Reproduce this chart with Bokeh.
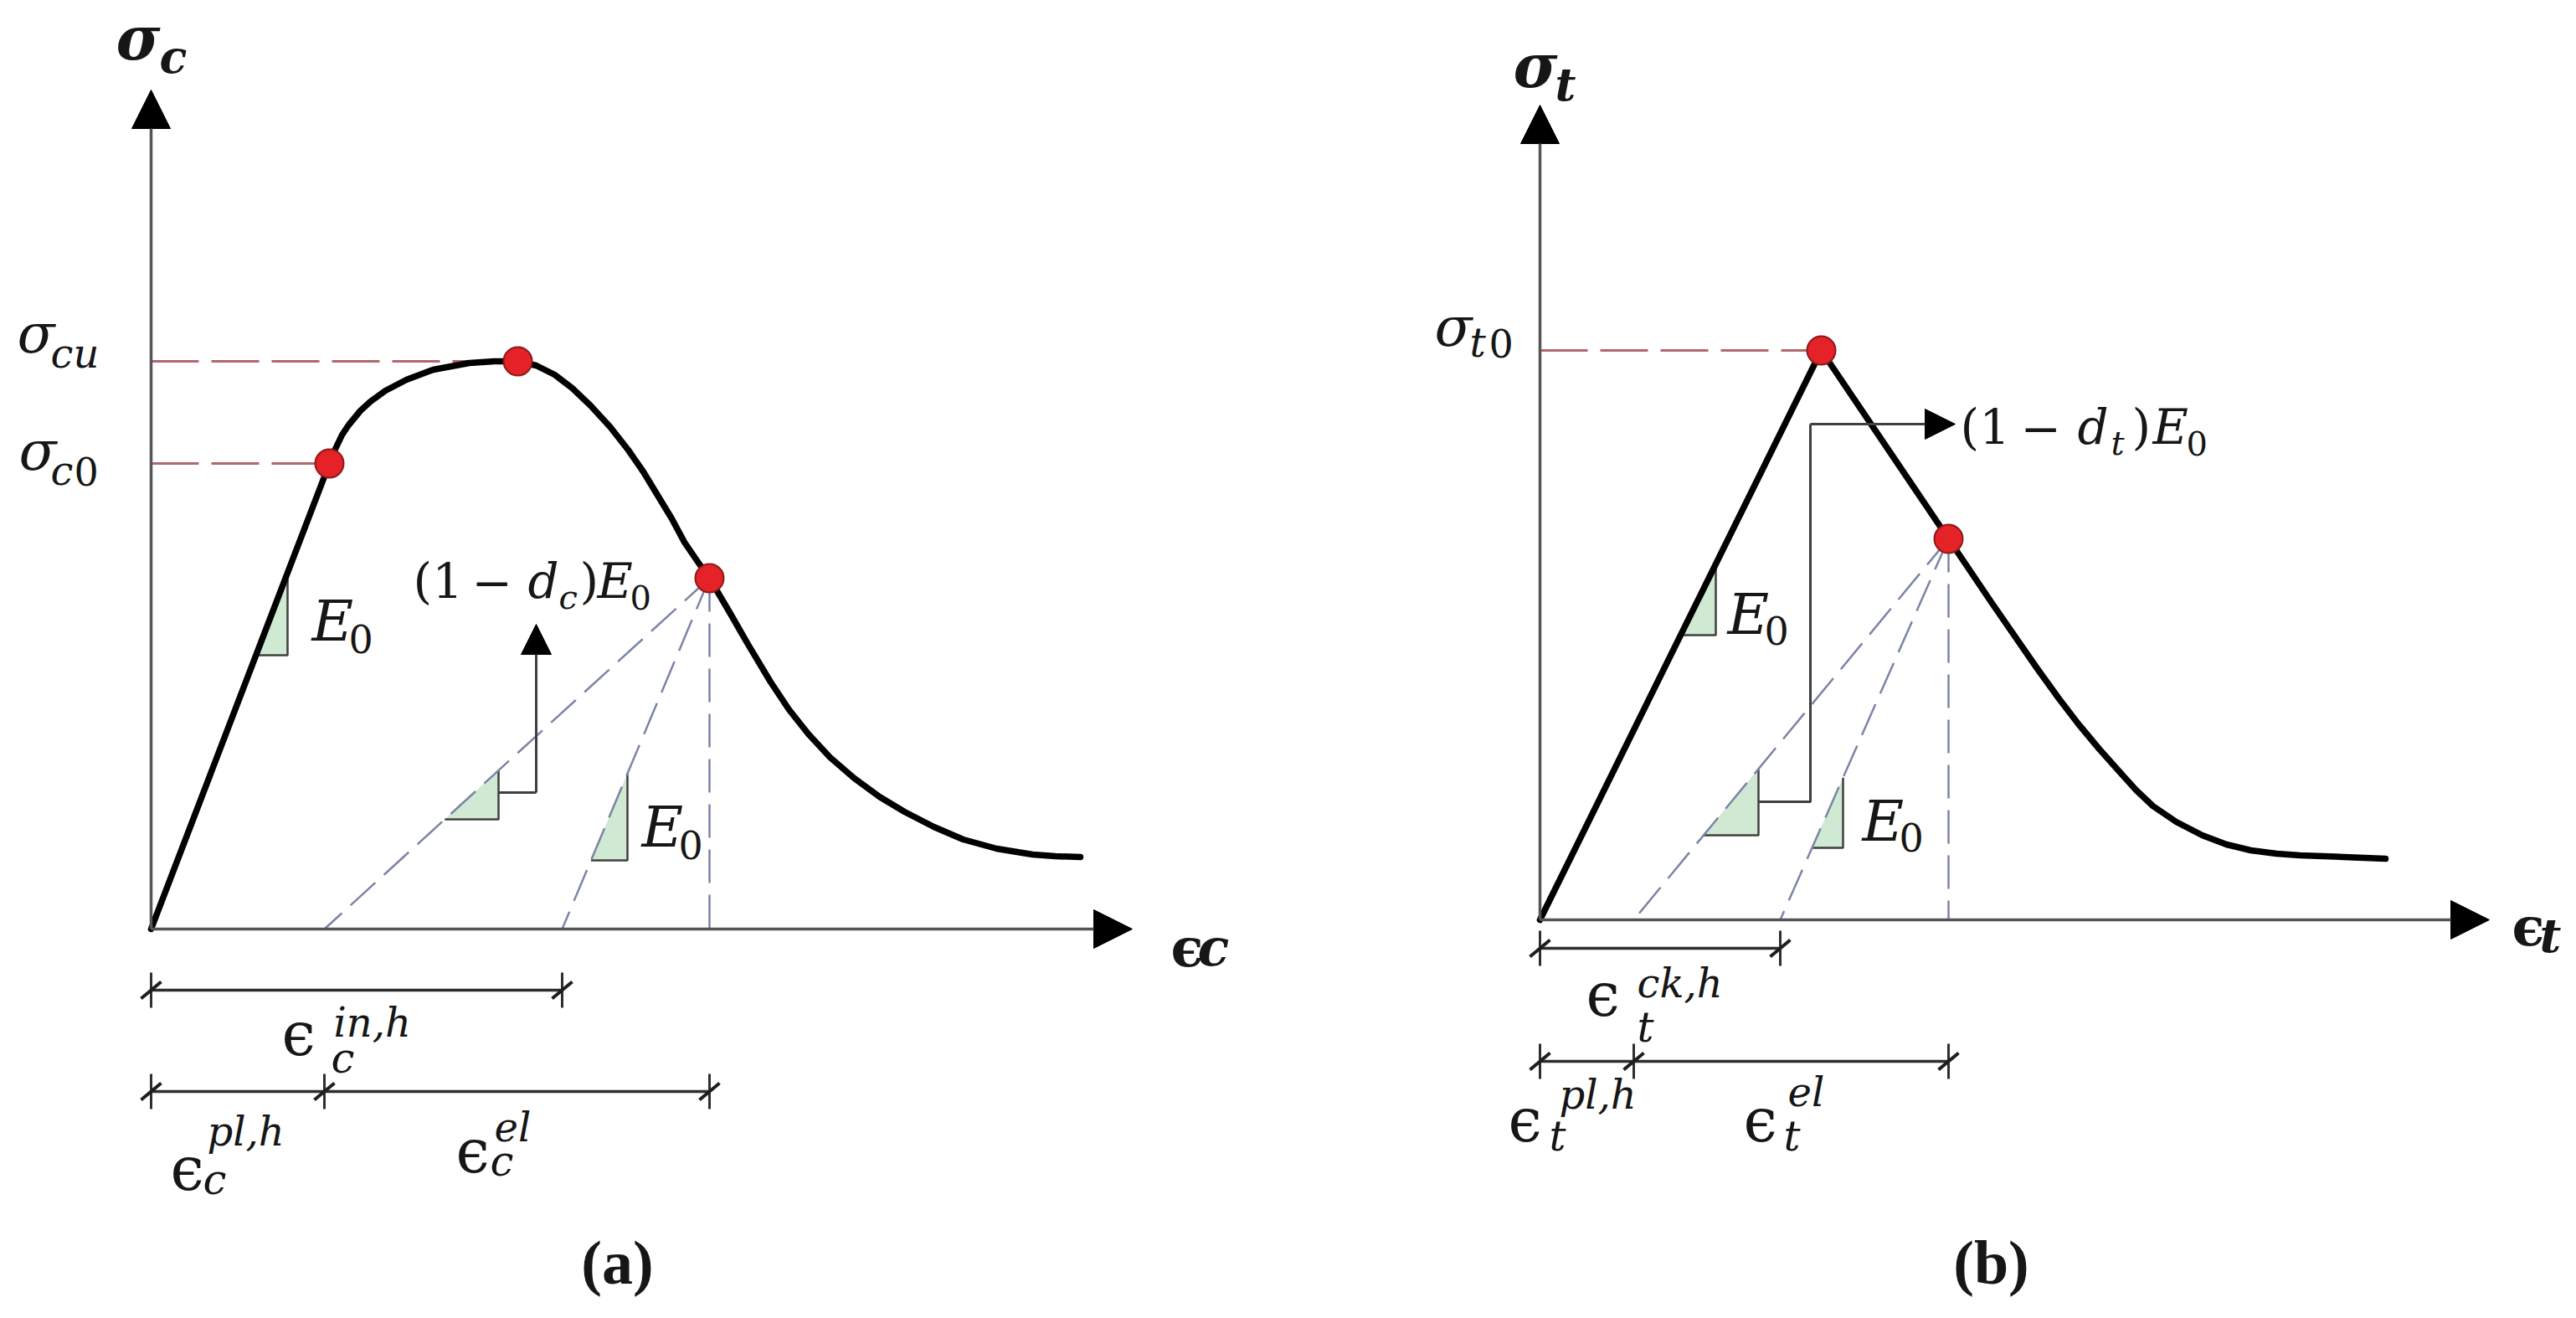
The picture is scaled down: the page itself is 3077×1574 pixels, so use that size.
from bokeh.plotting import figure
from bokeh.layouts import row
from bokeh.models import Range1d, Arrow, NormalHead
from bokeh.embed import file_html
from bokeh.resources import INLINE
from bokeh.core.properties import value

# ---------------- panel (a): compression ----------------
comp_strain = [0.00, 2.13, 2.18, 2.28, 2.36, 2.50, 2.62, 2.80, 3.05, 3.37, 3.80, 4.10,
               4.38, 4.60, 4.82, 5.03, 5.25, 5.48, 5.70, 5.88, 6.05, 6.22, 6.37, 6.52,
               6.67, 6.90, 7.13, 7.40, 7.62, 7.85, 8.11, 8.40, 8.70, 9.00, 9.35, 9.70,
               10.10, 10.53, 10.80, 11.10]
comp_stress = [0.00, 5.56, 5.69, 5.90, 6.02, 6.19, 6.30, 6.43, 6.56, 6.68, 6.76, 6.78,
               6.78, 6.73, 6.62, 6.46, 6.25, 6.00, 5.72, 5.46, 5.18, 4.90, 4.62, 4.40,
               4.19, 3.80, 3.40, 2.95, 2.62, 2.33, 2.05, 1.80, 1.58, 1.40, 1.22, 1.07,
               0.96, 0.89, 0.87, 0.86]
comp_eps0, comp_sig0 = 2.13, 5.56          # sigma_c0
comp_eps_peak, comp_sig_cu = 4.38, 6.78    # sigma_cu
comp_eps_d, comp_sig_d = 6.67, 4.19        # damaged state
comp_eps_pl = 2.07                         # plastic strain
comp_eps_in = 4.91                         # inelastic strain
comp_axis_max = (11.72, 10.02)

# ---------------- panel (b): tension ----------------
tens_strain = [0.00, 3.36, 4.88, 5.40, 5.94, 6.20, 6.43, 6.68, 6.93, 7.12, 7.32, 7.60,
               7.91, 8.20, 8.49, 8.80, 9.08, 9.60, 10.10]
tens_stress = [0.00, 6.80, 4.55, 3.78, 3.00, 2.64, 2.34, 2.04, 1.76, 1.55, 1.36, 1.17,
               1.01, 0.90, 0.83, 0.79, 0.77, 0.75, 0.73]
tens_eps_t0, tens_sig_t0 = 3.36, 6.80
tens_eps_d, tens_sig_d = 4.88, 4.55
tens_eps_pl = 1.12
tens_eps_ck = 2.87
tens_axis_max = (11.34, 9.73)

RED_DASH = "#b0686c"
BLUE_DASH = "#7c84a6"
GREEN = "#cfe9d3"
EDGE = "#3f3f3f"
AXIS = "#555555"
TXT = "#161616"
FONT = "DejaVu Serif"
PX = 100.0        # screen pixels per data unit
BASE_SHIFT = 0.38  # text baseline correction, in em


def make_fig(w, xr, yr):
    p = figure(width=w, height=1558, x_range=Range1d(*xr), y_range=Range1d(*yr),
               x_axis_type=None, y_axis_type=None, toolbar_location=None,
               output_backend="svg", min_border=0)
    p.outline_line_color = None
    p.background_fill_color = "white"
    p.border_fill_color = "white"
    return p


def put(p, x, y, s, size, style="italic", font=FONT, align="left"):
    y = y + BASE_SHIFT * size / PX
    p.text(x=[x], y=[y], text=[s], text_font=value(font), text_font_size=f"{size}px",
           text_font_style=style, text_align=align, text_baseline="alphabetic",
           text_color=TXT)


def axes(p, xmax, ymax):
    p.add_layout(Arrow(x_start=0, y_start=0, x_end=xmax, y_end=0, line_color=AXIS,
                       line_width=3.5,
                       end=NormalHead(size=46, fill_color="black", line_color="black",
                                      line_width=1)))
    p.add_layout(Arrow(x_start=0, y_start=0, x_end=0, y_end=ymax, line_color=AXIS,
                       line_width=3.5,
                       end=NormalHead(size=46, fill_color="black", line_color="black",
                                      line_width=1)))


def slope_triangle(p, x1, y1, x2, y2, x_right, y_bottom):
    m = (y2 - y1) / (x2 - x1)
    y_top = y1 + m * (x_right - x1)
    x_left = x1 + (y_bottom - y1) / m
    p.patch([x_left, x_right, x_right], [y_bottom, y_bottom, y_top],
            fill_color=GREEN, line_color=None)
    p.line([x_left, x_right, x_right], [y_bottom, y_bottom, y_top],
           line_color=EDGE, line_width=2.5)


def dim_line(p, y, xs):
    p.line([xs[0], xs[-1]], [y, y], line_color="#2e2e2e", line_width=3.5)
    for x in xs:
        p.line([x, x], [y - 0.21, y + 0.21], line_color="#2e2e2e", line_width=3)
        p.line([x - 0.12, x + 0.12], [y - 0.10, y + 0.10], line_color="#1e1e1e",
               line_width=4)


def damage_lines(p, eps_d, sig_d, eps_pl, eps_el0):
    for x0 in (eps_pl, eps_el0):
        p.line([eps_d, x0], [sig_d, 0], line_color=BLUE_DASH, line_width=2.5,
               line_dash="40 14")
    p.line([eps_d, eps_d], [sig_d, 0], line_color=BLUE_DASH, line_width=2.5,
           line_dash="40 14")


def modulus_label(p, x0, y0, sub, offs, ysub):
    put(p, x0, y0, "(1", 58, "normal")
    put(p, x0 + offs[0], y0, "−", 58, "normal")
    put(p, x0 + offs[1], y0, "d", 58)
    put(p, x0 + offs[2], ysub, sub, 40)
    put(p, x0 + offs[3], y0, ")", 58, "normal")
    put(p, x0 + offs[4], y0, "E", 58)
    put(p, x0 + offs[5], ysub, "0", 40, "normal")


# =================== panel (a) ===================
pa = make_fig(1531, (-1.80, 13.51), (-4.49, 11.09))
axes(pa, *comp_axis_max)
pa.line([0, comp_eps_peak], [comp_sig_cu, comp_sig_cu], line_color=RED_DASH, line_width=3,
        line_dash="57 15")
pa.line([0, comp_eps0], [comp_sig0, comp_sig0], line_color=RED_DASH, line_width=3,
        line_dash="57 15")
slope_triangle(pa, 0, 0, comp_eps0, comp_sig0, 1.63, 3.27)
slope_triangle(pa, comp_eps_pl, 0, comp_eps_d, comp_sig_d, 4.15, 1.31)
slope_triangle(pa, comp_eps_in, 0, comp_eps_d, comp_sig_d, 5.69, 0.82)
damage_lines(pa, comp_eps_d, comp_sig_d, comp_eps_pl, comp_eps_in)
pa.line(comp_strain, comp_stress, line_color="black", line_width=7.5, line_join="round",
        line_cap="round")
pa.line([4.15, 4.60], [1.63, 1.63], line_color=EDGE, line_width=3)
pa.add_layout(Arrow(x_start=4.60, y_start=1.63, x_end=4.60, y_end=3.64, line_color=EDGE,
                    line_width=3,
                    end=NormalHead(size=36, fill_color="black", line_color="black",
                                   line_width=1)))
pa.scatter([comp_eps0, comp_eps_peak, comp_eps_d], [comp_sig0, comp_sig_cu, comp_sig_d],
           size=34, marker="circle", fill_color="#e52228", line_color="#8b1a1a",
           line_width=2)
dim_line(pa, -0.73, [0, comp_eps_in])
dim_line(pa, -1.94, [0, comp_eps_pl, comp_eps_d])

put(pa, -0.42, 10.37, "σ", 72, "bold italic")
put(pa, 0.10, 10.21, "c", 54, "bold italic")
put(pa, 12.18, -0.46, "ϵ", 64, "bold")
put(pa, 12.50, -0.46, "c", 62, "bold italic")
put(pa, -1.60, 6.86, "σ", 66)
put(pa, -1.20, 6.69, "cu", 48)
put(pa, -1.58, 5.46, "σ", 66)
put(pa, -1.20, 5.29, "c", 48)
put(pa, -0.92, 5.29, "0", 46, "normal")
put(pa, 1.92, 3.42, "E", 68)
put(pa, 2.36, 3.29, "0", 46, "normal")
put(pa, 5.86, 0.96, "E", 68)
put(pa, 6.30, 0.83, "0", 46, "normal")
modulus_label(pa, 3.13, 3.93, "c", (0.70, 1.37, 1.74, 1.99, 2.20, 2.59), 3.81)
put(pa, 1.56, -1.53, "ϵ", 72, "normal")
put(pa, 2.15, -1.73, "c", 50)
put(pa, 2.18, -1.30, "in,h", 48)
put(pa, 0.23, -3.14, "ϵ", 72, "normal")
put(pa, 0.62, -3.18, "c", 50)
put(pa, 0.67, -2.60, "pl,h", 48)
put(pa, 3.64, -2.93, "ϵ", 72, "normal")
put(pa, 4.05, -2.96, "c", 50)
put(pa, 4.10, -2.55, "el", 48)
put(pa, 5.57, -4.27, "(a)", 74, "bold", "Liberation Serif", "center")

# =================== panel (b) ===================
pb = make_fig(1530, (-3.08, 12.22), (-4.60, 10.98))
axes(pb, *tens_axis_max)
pb.line([0, tens_eps_t0], [tens_sig_t0, tens_sig_t0], line_color=RED_DASH, line_width=3,
        line_dash="57 15")
slope_triangle(pb, 0, 0, tens_eps_t0, tens_sig_t0, 2.10, 3.40)
slope_triangle(pb, tens_eps_pl, 0, tens_eps_d, tens_sig_d, 2.61, 1.01)
slope_triangle(pb, tens_eps_ck, 0, tens_eps_d, tens_sig_d, 3.62, 0.86)
damage_lines(pb, tens_eps_d, tens_sig_d, tens_eps_pl, tens_eps_ck)
pb.line(tens_strain, tens_stress, line_color="black", line_width=7.5, line_join="round",
        line_cap="round")
pb.line([2.61, 3.23, 3.23], [1.41, 1.41, 5.92], line_color=EDGE, line_width=3)
pb.add_layout(Arrow(x_start=3.23, y_start=5.92, x_end=4.96, y_end=5.92, line_color=EDGE,
                    line_width=3,
                    end=NormalHead(size=36, fill_color="black", line_color="black",
                                   line_width=1)))
pb.scatter([tens_eps_t0, tens_eps_d], [tens_sig_t0, tens_sig_d], size=34, marker="circle",
           fill_color="#e52228", line_color="#8b1a1a", line_width=2)
dim_line(pb, -0.34, [0, tens_eps_ck])
dim_line(pb, -1.69, [0, tens_eps_pl, tens_eps_d])

put(pb, -0.32, 9.93, "σ", 72, "bold italic")
put(pb, 0.18, 9.77, "t", 54, "bold italic")
put(pb, 11.61, -0.32, "ϵ", 64, "bold")
put(pb, 11.94, -0.40, "t", 56, "bold italic")
put(pb, -1.26, 6.83, "σ", 66)
put(pb, -0.84, 6.71, "t", 48)
put(pb, -0.61, 6.71, "0", 46, "normal")
put(pb, 2.24, 3.39, "E", 68)
put(pb, 2.68, 3.28, "0", 46, "normal")
put(pb, 3.85, 0.92, "E", 68)
put(pb, 4.29, 0.81, "0", 46, "normal")
modulus_label(pb, 5.02, 5.66, "t", (0.72, 1.40, 1.80, 2.05, 2.30, 2.70), 5.54)
put(pb, 0.55, -1.17, "ϵ", 72, "normal")
put(pb, 1.16, -1.47, "t", 50)
put(pb, 1.16, -0.94, "ck,h", 48)
put(pb, -0.38, -2.67, "ϵ", 72, "normal")
put(pb, 0.11, -2.77, "t", 50)
put(pb, 0.23, -2.27, "pl,h", 48)
put(pb, 2.43, -2.67, "ϵ", 72, "normal")
put(pb, 2.91, -2.77, "t", 50)
put(pb, 2.96, -2.24, "el", 48)
put(pb, 5.39, -4.38, "(b)", 74, "bold", "Liberation Serif", "center")

layout = row(pa, pb)
open("out.html", "w").write(file_html(layout, INLINE))
